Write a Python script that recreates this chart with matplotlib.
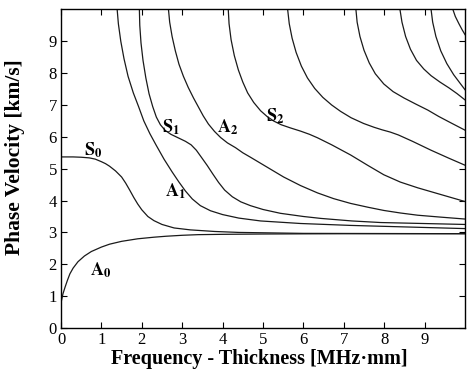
import matplotlib
matplotlib.use("Agg")
import matplotlib.pyplot as plt

# Dispersion curves (x = f*d [MHz mm], y = phase velocity [km/s])
a0_x = [0.01, 0.05, 0.10, 0.16, 0.22, 0.30, 0.42, 0.58, 0.75, 1.0, 1.2, 1.5, 1.9, 2.3, 2.6, 3.0, 3.4, 4.0, 5.0, 7.0, 10.0]
a0_y = [0.85, 1.08, 1.28, 1.50, 1.70, 1.88, 2.08, 2.26, 2.40, 2.54, 2.63, 2.72, 2.80, 2.85, 2.88, 2.91, 2.93, 2.94, 2.95, 2.96, 2.96]

s0_x = [0.0, 0.3, 0.5, 0.7, 0.85, 1.0, 1.1, 1.2, 1.35, 1.5, 1.6, 1.7, 1.8, 1.9, 2.0, 2.15, 2.3, 2.5, 2.8, 3.2, 3.8, 4.4, 6.0, 10.0]
s0_y = [5.37, 5.37, 5.36, 5.34, 5.30, 5.22, 5.16, 5.08, 4.93, 4.74, 4.55, 4.33, 4.10, 3.89, 3.71, 3.50, 3.37, 3.25, 3.14, 3.08, 3.03, 3.00, 2.97, 2.96]

a1_x = [1.39, 1.42, 1.48, 1.56, 1.66, 1.79, 1.92, 2.05, 2.20, 2.35, 2.55, 2.75, 2.92, 3.08, 3.25, 3.45, 3.70, 4.00, 4.40, 4.94, 5.93, 7.17, 10.0]
a1_y = [10.0, 9.55, 9.00, 8.45, 7.90, 7.38, 6.95, 6.50, 6.10, 5.75, 5.30, 4.90, 4.58, 4.30, 4.05, 3.84, 3.68, 3.56, 3.45, 3.36, 3.28, 3.22, 3.12]

s1_x = [1.94, 1.95, 1.98, 2.03, 2.10, 2.18, 2.27, 2.36, 2.46, 2.58, 2.72, 2.90, 3.08, 3.22, 3.35, 3.48, 3.62, 3.76, 3.90, 4.05, 4.24, 4.45, 4.69, 5.00, 5.43, 6.00, 6.43, 7.20, 7.92, 10.0]
s1_y = [10.0, 9.50, 8.95, 8.40, 7.85, 7.35, 6.95, 6.62, 6.38, 6.20, 6.08, 5.97, 5.86, 5.75, 5.58, 5.35, 5.10, 4.83, 4.57, 4.33, 4.12, 3.96, 3.84, 3.72, 3.60, 3.50, 3.44, 3.36, 3.31, 3.25]

a2_x = [2.66, 2.69, 2.75, 2.83, 2.92, 3.03, 3.15, 3.28, 3.40, 3.52, 3.65, 3.80, 3.95, 4.12, 4.32, 4.50, 4.69, 5.10, 5.51, 5.93, 6.35, 6.75, 7.17, 7.60, 7.99, 8.40, 8.83, 9.40, 10.0]
a2_y = [10.0, 9.60, 9.15, 8.70, 8.28, 7.90, 7.55, 7.22, 6.94, 6.66, 6.40, 6.17, 5.98, 5.81, 5.66, 5.50, 5.36, 5.05, 4.74, 4.47, 4.24, 4.06, 3.91, 3.79, 3.69, 3.61, 3.54, 3.48, 3.42]

s2_x = [4.14, 4.16, 4.21, 4.29, 4.39, 4.50, 4.62, 4.77, 4.94, 5.10, 5.26, 5.45, 5.68, 5.93, 6.15, 6.35, 6.70, 7.17, 7.60, 7.99, 8.40, 8.83, 9.40, 10.0]
s2_y = [10.0, 9.55, 9.05, 8.55, 8.10, 7.72, 7.38, 7.08, 6.82, 6.64, 6.50, 6.38, 6.28, 6.18, 6.08, 5.97, 5.75, 5.43, 5.10, 4.81, 4.58, 4.40, 4.19, 3.97]

a3_x = [5.61, 5.65, 5.72, 5.82, 5.95, 6.10, 6.28, 6.48, 6.70, 6.92, 7.18, 7.49, 7.75, 7.95, 8.15, 8.35, 8.70, 9.16, 9.60, 10.0]
a3_y = [10.0, 9.55, 9.10, 8.65, 8.22, 7.85, 7.52, 7.24, 7.00, 6.80, 6.60, 6.42, 6.30, 6.22, 6.15, 6.06, 5.86, 5.58, 5.33, 5.11]

s3_x = [7.30, 7.33, 7.40, 7.50, 7.63, 7.78, 7.99, 8.22, 8.49, 8.78, 9.08, 9.35, 9.65, 10.0]
s3_y = [10.0, 9.60, 9.15, 8.72, 8.32, 7.98, 7.66, 7.42, 7.22, 7.03, 6.84, 6.64, 6.44, 6.21]

m7_x = [8.39, 8.44, 8.53, 8.65, 8.80, 8.98, 9.16, 9.38, 9.60, 9.80, 10.0]
m7_y = [10.0, 9.60, 9.15, 8.75, 8.40, 8.13, 7.92, 7.72, 7.54, 7.36, 7.16]

m8_x = [9.16, 9.20, 9.28, 9.40, 9.55, 9.72, 9.88, 10.0]
m8_y = [10.0, 9.60, 9.15, 8.70, 8.30, 7.95, 7.68, 7.48]

m9_x = [9.70, 9.76, 9.85, 9.93, 10.0]
m9_y = [10.0, 9.78, 9.55, 9.36, 9.21]

curves = [(a0_x, a0_y), (s0_x, s0_y), (a1_x, a1_y), (s1_x, s1_y), (a2_x, a2_y),
          (s2_x, s2_y), (a3_x, a3_y), (s3_x, s3_y), (m7_x, m7_y), (m8_x, m8_y), (m9_x, m9_y)]

mode_labels = [r"$\mathbf{S_0}$", r"$\mathbf{A_0}$", r"$\mathbf{A_1}$", r"$\mathbf{S_1}$", r"$\mathbf{A_2}$", r"$\mathbf{S_2}$"]
label_x = [0.80, 0.97, 2.83, 2.73, 4.12, 5.31]
label_y = [5.58, 1.80, 4.29, 6.31, 6.31, 6.66]

ticks = list(range(10))

plt.rcParams["font.family"] = ["Liberation Serif", "DejaVu Serif"]
plt.rcParams["mathtext.fontset"] = "stix"

fig = plt.figure(figsize=(4.74, 3.77), dpi=100)
ax = fig.add_axes([0.1287, 0.130, 0.8523, 0.845])

for cx, cy in curves:
    ax.plot(cx, cy, color="#1a1a1a", lw=0.9)

for txt, lx, ly in zip(mode_labels, label_x, label_y):
    ax.text(lx, ly, txt, fontsize=13, ha="center", va="center", color="black")

ax.set_xlim(0, 10)
ax.set_ylim(0, 10)
ax.set_xticks(ticks)
ax.set_yticks(ticks)
ax.tick_params(direction="in", top=True, right=True, length=4, width=0.8, labelsize=12, pad=3)
for sp in ax.spines.values():
    sp.set_linewidth(1.0)

ax.set_xlabel("Frequency - Thickness [MHz\u00b7mm]", fontsize=14.5, fontweight="bold")
ax.set_ylabel("Phase Velocity [km/s]", fontsize=15.5, fontweight="bold")
ax.xaxis.set_label_coords(0.49, -0.065)
ax.yaxis.set_label_coords(-0.088, 0.537)

fig.savefig("out.png", dpi=100)
